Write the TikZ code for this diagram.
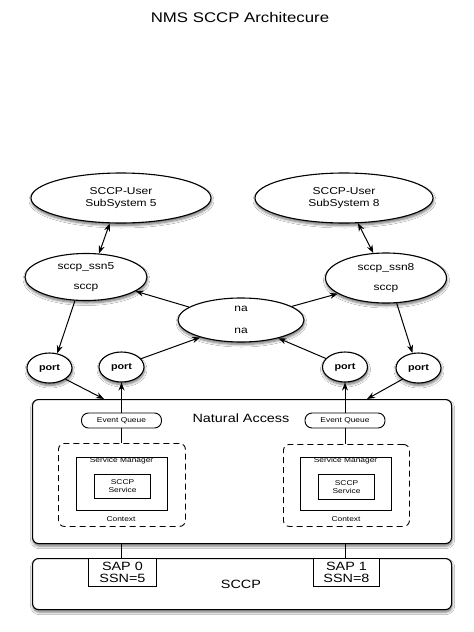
\documentclass[tikz,border=0pt]{standalone}
\usepackage{fontspec}
\setmainfont[FakeStretch=1.2]{Liberation Sans}
\usetikzlibrary{shapes.geometric,arrows.meta,shadows,shadows.blur}
\tikzset{
  shd/.style={blur shadow={shadow xshift=0.5pt,shadow yshift=-2.5pt,shadow blur radius=2.5pt,shadow blur steps=6,shadow opacity=55}},
  ell/.style={ellipse,draw,line width=1.1pt,fill=white,inner sep=0pt,align=center,font=\fontsize{10}{12}\selectfont,shd},
  portnode/.style={ellipse,draw,line width=1.1pt,fill=white,inner sep=0pt,minimum width=45pt,minimum height=30pt,font=\fontsize{9}{11}\selectfont\bfseries,shd},
  bigbox/.style={draw,line width=1.1pt,rounded corners=6pt,fill=white,shd},
  eqnode/.style={draw,line width=0.9pt,rounded corners=7pt,fill=white,minimum width=80pt,minimum height=15pt,inner sep=0pt,font=\fontsize{7}{8}\selectfont},
  ctxbox/.style={draw,dashed,dash pattern=on 6pt off 4pt,line width=0.9pt,rounded corners=6pt},
  smbox/.style={draw,line width=0.9pt,inner sep=0pt},
  svcbox/.style={draw,line width=1.1pt,inner sep=0pt,align=center,font=\fontsize{7}{8}\selectfont},
  sapbox/.style={draw,line width=0.9pt,fill=white,inner sep=0pt,align=center,font=\fontsize{12}{12.5}\selectfont},
  small/.style={font=\fontsize{7}{8}\selectfont,inner sep=0pt},
  conn/.style={line width=1pt},
  arr/.style={conn,-{Stealth[length=8pt,width=6pt]}},
  darr/.style={conn,{Stealth[length=8pt,width=6pt]}-{Stealth[length=8pt,width=6pt]}}
}
\begin{document}
\begin{tikzpicture}[x=1pt,y=-1pt]
\useasboundingbox[fill=white] (0,0) rectangle (474,632);
\node[font=\fontsize{14}{16}\selectfont] (title) at (240,17) {NMS SCCP Architecure};

% ellipses
\node[ell,minimum width=180pt,minimum height=50pt] (ss5) at (121,198) {SCCP-User\\SubSystem 5};
\node[ell,minimum width=178pt,minimum height=50pt] (ss8) at (344,198) {SCCP-User\\SubSystem 8};
\node[ell,minimum width=122pt,minimum height=47pt] (ssn5) at (86,277) {sccp\_ssn5\\[8pt]sccp};
\node[ell,minimum width=121pt,minimum height=50pt] (ssn8) at (386,278) {sccp\_ssn8\\[8pt]sccp};
\node[ell,minimum width=126pt,minimum height=44pt] (na) at (241,320) {na\\[10pt]na};

% ports
\node[portnode] (p1) at (49.5,368) {port};
\node[portnode] (p2) at (121.5,367) {port};
\node[portnode] (p3) at (345,367) {port};
\node[portnode] (p4) at (418.5,368) {port};

% Natural Access box
\node[bigbox,minimum width=419pt,minimum height=144pt,anchor=north west,inner sep=0pt] (nabox) at (32,399) {};
\node[font=\fontsize{12}{14}\selectfont,inner sep=0pt] (natxt) at (241,418) {Natural Access};
\node[eqnode] (eq1) at (121.5,420.5) {Event Queue};
\node[eqnode] (eq2) at (345,420.5) {Event Queue};

% contexts
\node[ctxbox,minimum width=127pt,minimum height=83pt,anchor=north west,inner sep=0pt] (ctx1) at (58,443) {};
\node[ctxbox,minimum width=126pt,minimum height=82pt,anchor=north west,inner sep=0pt] (ctx2) at (283,444) {};
\node[smbox,minimum width=91pt,minimum height=53pt,anchor=north west] (sm1) at (76,457) {};
\node[smbox,minimum width=91pt,minimum height=53pt,anchor=north west] (sm2) at (300,457) {};
\node[small] (smt1) at (121.5,461) {Service Manager};
\node[small] (smt2) at (345.5,461) {Service Manager};
\node[svcbox,minimum width=56pt,minimum height=24pt,anchor=north west] (svc1) at (94,474) {SCCP\\Service};
\node[svcbox,minimum width=56pt,minimum height=25pt,anchor=north west] (svc2) at (318,474) {SCCP\\Service};
\node[small] (cx1) at (121,519) {Context};
\node[small] (cx2) at (346,519) {Context};

% SCCP box
\node[bigbox,minimum width=419pt,minimum height=51pt,anchor=north west,inner sep=0pt] (sccpbox) at (32,558) {};
\node[font=\fontsize{12}{14}\selectfont,inner sep=0pt] (sccptxt) at (241,584) {SCCP};
\node[sapbox,minimum width=68pt,minimum height=28pt,anchor=north west] (sap0) at (88,558) {SAP 0\\SSN=5};
\node[sapbox,minimum width=66pt,minimum height=28pt,anchor=north west] (sap1) at (313,558) {SAP 1\\SSN=8};

% connectors
\draw[darr] (ss5.246) -- (ssn5.61);
\draw[darr] (ss8.299) -- (ssn8.117);
\draw[arr] (ssn5.245) -- (p1.62);
\draw[arr] (ssn8.293) -- (p4.112);
\draw[arr] (na.166) -- (ssn5.344);
\draw[arr] (na.15) -- (ssn8.198);
\draw[arr] (p2.23) -- (na.203);
\draw[arr] (p3.156) -- (na.334);
\coordinate (in1) at (104,399);
\coordinate (in4) at (367,399);
\draw[arr] (p1.-35) -- (in1);
\draw[arr] (p4.215) -- (in4);
\draw[arr] (eq1.north) -- (p2.south);
\draw[arr] (eq2.north) -- (p3.south);
\draw[conn] (eq1.south) -- (eq1.south |- ctx1.north);
\draw[conn] (eq2.south) -- (eq2.south |- ctx2.north);
\coordinate (s0top) at (sap0.north -| eq1.south);
\coordinate (s1top) at (sap1.north -| eq2.south);
\draw[conn] (s0top) -- (s0top |- nabox.south);
\draw[conn] (s1top) -- (s1top |- nabox.south);
\end{tikzpicture}
\end{document}
